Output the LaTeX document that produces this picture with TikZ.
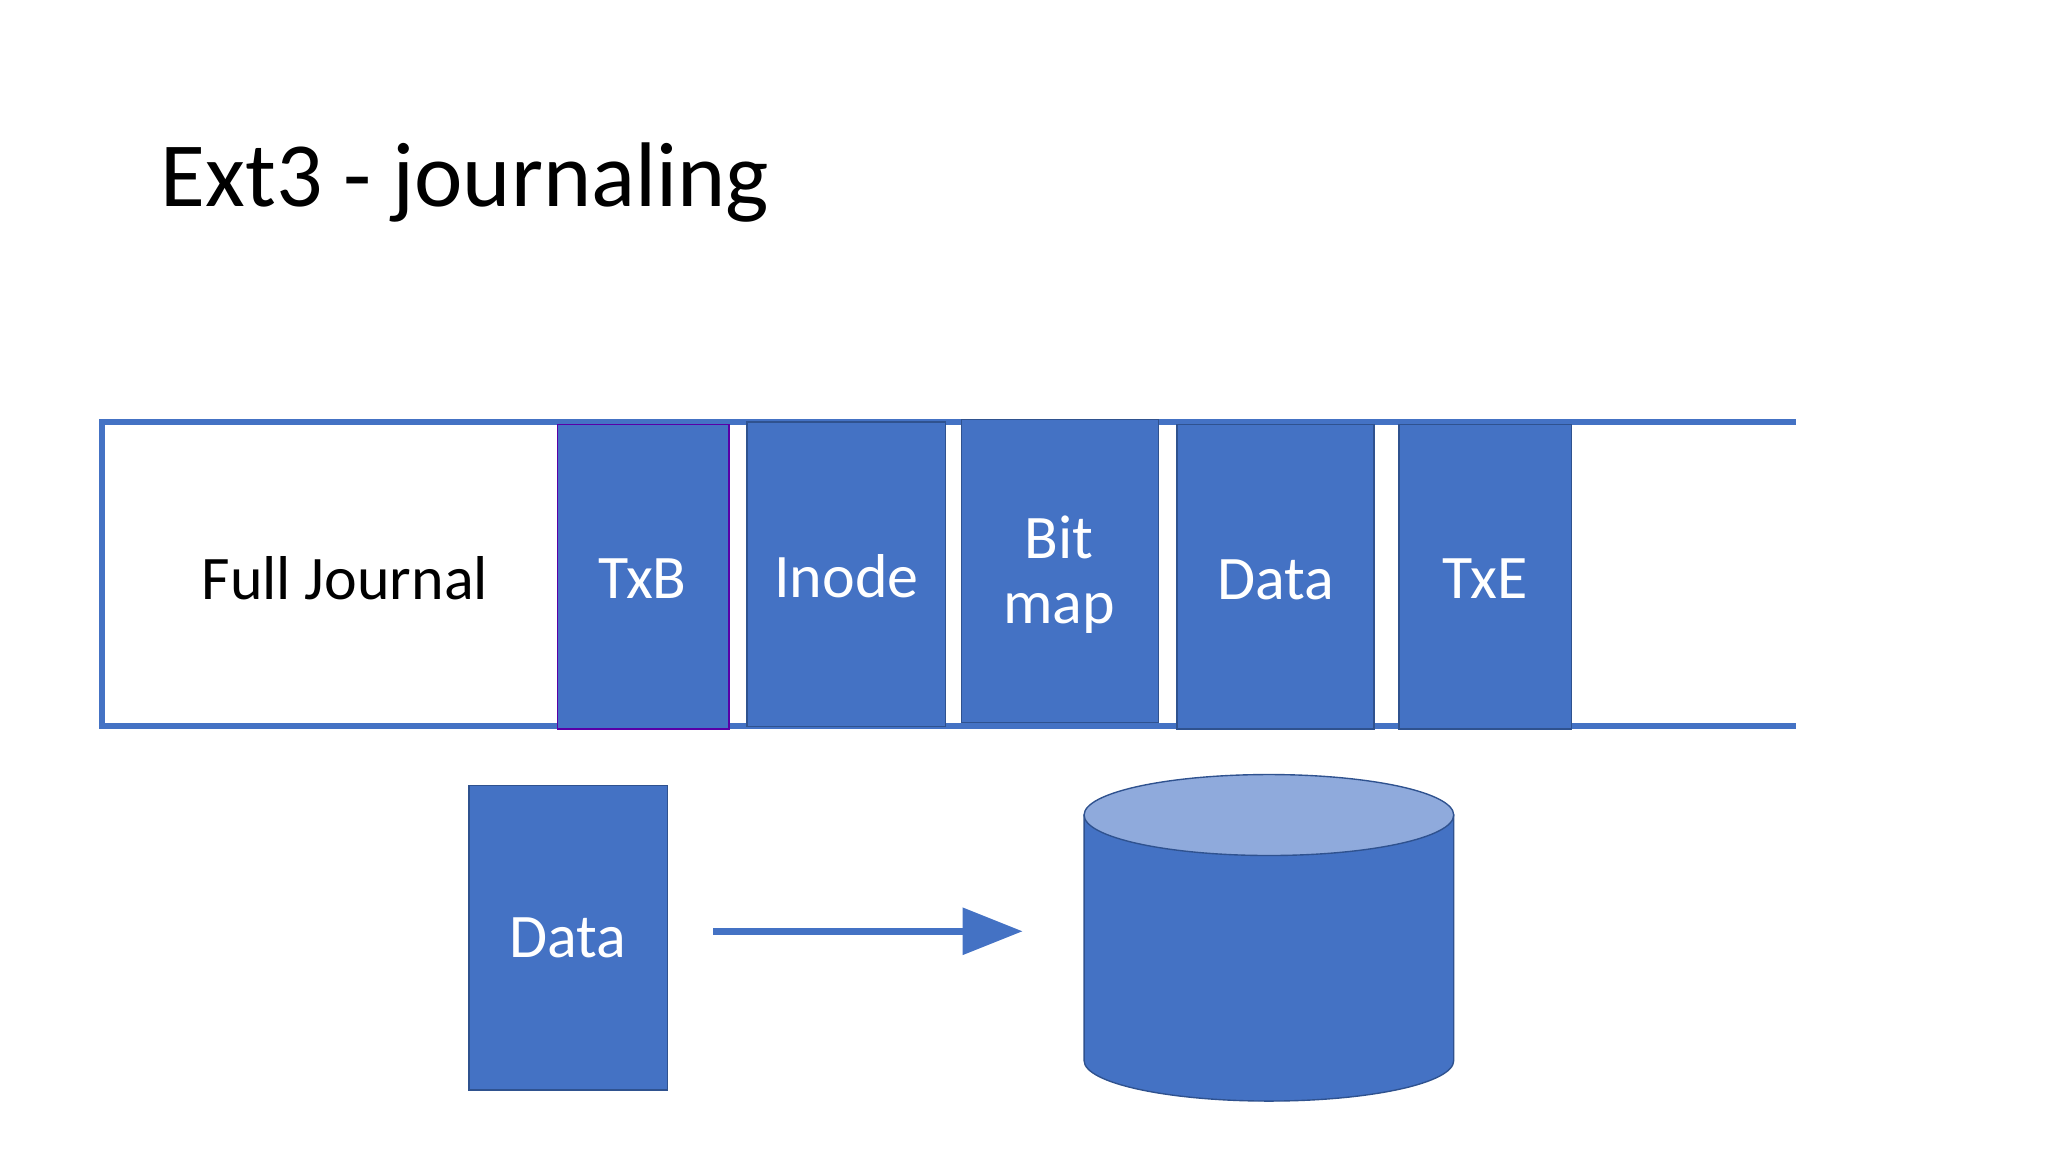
\documentclass[tikz,border=0pt]{standalone}
\usepackage{fontspec}
\setmainfont{Carlito}
\usetikzlibrary{arrows.meta}
\definecolor{bl}{HTML}{4472C4}
\definecolor{bd}{HTML}{2F528F}
\definecolor{lb}{HTML}{8FAADC}
\begin{document}
\begin{tikzpicture}[x=0.02cm,y=-0.02cm,
  blk/.style={fill=bl,draw=bd,line width=0.6pt,text=white,font=\fontsize{27}{32}\selectfont,align=center}]
\useasboundingbox (0,0) rectangle (1568,882);
\node[anchor=west,font=\fontsize{40}{48}\selectfont] (title) at (117,140) {Ext3 - journaling};
\draw[bl,line width=2.8pt] (1375,323) -- (78,323) -- (78,556) -- (1375,556);
\node (fj) at (264,443) {\fontsize{27}{32}\selectfont Full Journal};
\fill[bl] (427,325) rectangle (558,558);
\draw[draw=violet!70!blue,line width=0.6pt] (427,325) rectangle (558,558);
\node[text=white,font=\fontsize{27}{32}\selectfont] (txb) at (492,443) {TxB};
\fill[blk] (572,323) rectangle (724,556);
\node[text=white,font=\fontsize{27}{32}\selectfont] (ino) at (648,441) {Inode};
\fill[blk] (736,321) rectangle (887,553);
\node[text=white,font=\fontsize{27}{32}\selectfont,align=center] (bm) at (811,440) {Bit\\[-4pt]map};
\fill[blk] (901,325) rectangle (1052,558);
\node[text=white,font=\fontsize{27}{32}\selectfont] (dat) at (977,444) {Data};
\fill[blk] (1071,325) rectangle (1203,558);
\node[text=white,font=\fontsize{27}{32}\selectfont] (txe) at (1137,443) {TxE};
\node[blk,minimum width=3.04cm,minimum height=4.66cm,inner sep=0pt] (d2) at (435,718) {Data};
\coordinate (a1) at (546,713);
\coordinate (a2) at (783,713);
\draw[bl,line width=3pt,-{Triangle[length=0.92cm,width=0.7cm]}] (a1) -- (a2);
\fill[bl,draw=bd,line width=0.6pt] (830,624) -- (830,812) arc[start angle=180,end angle=360,x radius=141.5,y radius=-31] -- (1113,624) -- cycle;
\fill[lb,draw=bd,line width=0.6pt] (971.5,624) ellipse[x radius=141.5,y radius=31];
\end{tikzpicture}
\end{document}
